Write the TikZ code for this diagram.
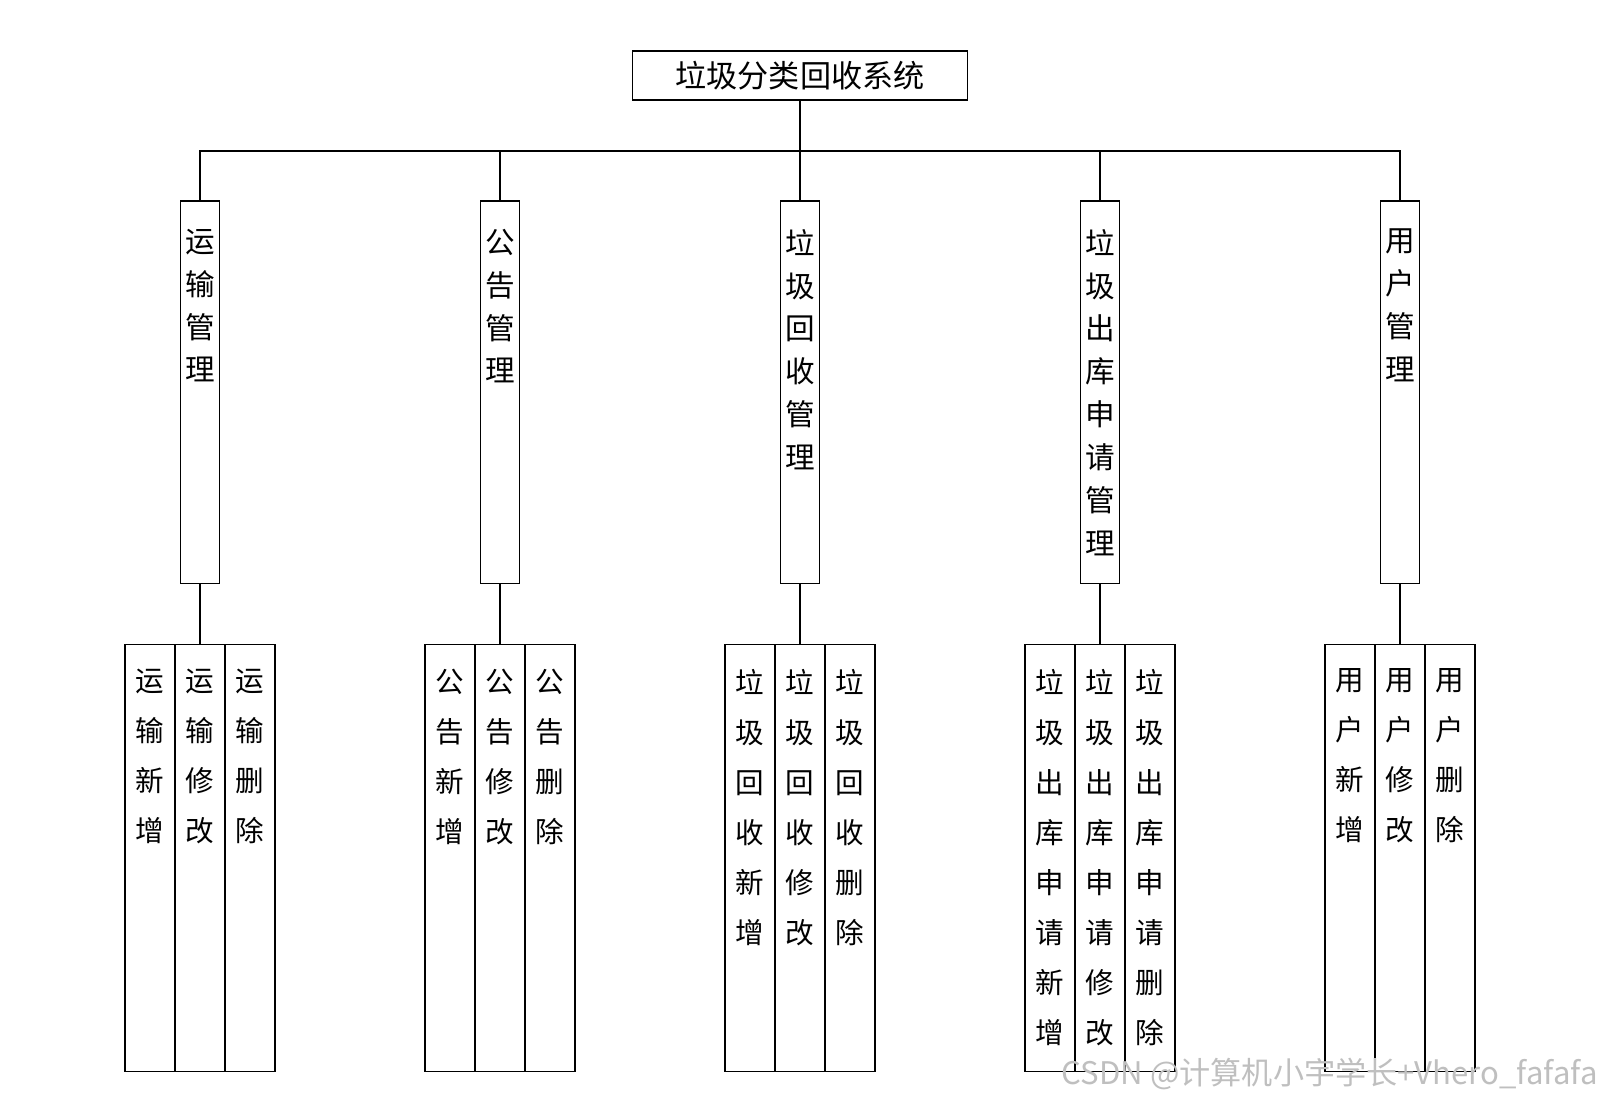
\documentclass[tikz,border=0pt]{standalone}
\usepackage{fontspec}
\setmainfont{Noto Sans CJK SC}
\begin{document}
\begin{tikzpicture}[x=1pt,y=-1pt,line width=1.1pt,
 bx/.style={draw,fill=none},
 vt/.style={anchor=north,align=center,inner sep=0pt,font=\fontsize{29}{42}\selectfont},
 lt/.style={anchor=north,align=center,inner sep=0pt,font=\fontsize{28}{49}\selectfont}]
\useasboundingbox (0,0) rectangle (1568,1078);
\draw[bx] (620,50) rectangle (948,98);
\node[font=\fontsize{30.5}{34}\selectfont] (top) at (784,74) {垃圾分类回收系统};
\draw (784,98) -- (784,148);
\draw (196,197) -- (196,148) -- (1372,148) -- (1372,197);
\foreach \cx/\t/\a/\b/\c in {
 196/运\\输\\管\\理/运\\输\\新\\增/运\\输\\修\\改/运\\输\\删\\除,
 490/公\\告\\管\\理/公\\告\\新\\增/公\\告\\修\\改/公\\告\\删\\除,
 784/垃\\圾\\回\\收\\管\\理/垃\\圾\\回\\收\\新\\增/垃\\圾\\回\\收\\修\\改/垃\\圾\\回\\收\\删\\除,
 1078/垃\\圾\\出\\库\\申\\请\\管\\理/垃\\圾\\出\\库\\申\\请\\新\\增/垃\\圾\\出\\库\\申\\请\\修\\改/垃\\圾\\出\\库\\申\\请\\删\\除,
 1372/用\\户\\管\\理/用\\户\\新\\增/用\\户\\修\\改/用\\户\\删\\除}{
 \draw (\cx,148) -- (\cx,197);
 \draw[bx] (\cx-19,197) rectangle (\cx+19,572);
 \node[vt] at (\cx,224) {\t};
 \draw (\cx,572) -- (\cx,632);
 \draw[bx] (\cx-73.5,632) rectangle (\cx+73.5,1050);
 \draw (\cx-24.5,632) -- (\cx-24.5,1050);
 \draw (\cx+24.5,632) -- (\cx+24.5,1050);
 \node[lt] at (\cx-49,655) {\a};
 \node[lt] at (\cx,655) {\b};
 \node[lt] at (\cx+49,655) {\c};
}
\node[anchor=west,text=black!25,font=\fontsize{30.5}{32}\selectfont,inner sep=0pt] (wm) at (1040,1052) {CSDN @计算机小宇学长+Vhero\_fafafa};
\end{tikzpicture}
\end{document}
